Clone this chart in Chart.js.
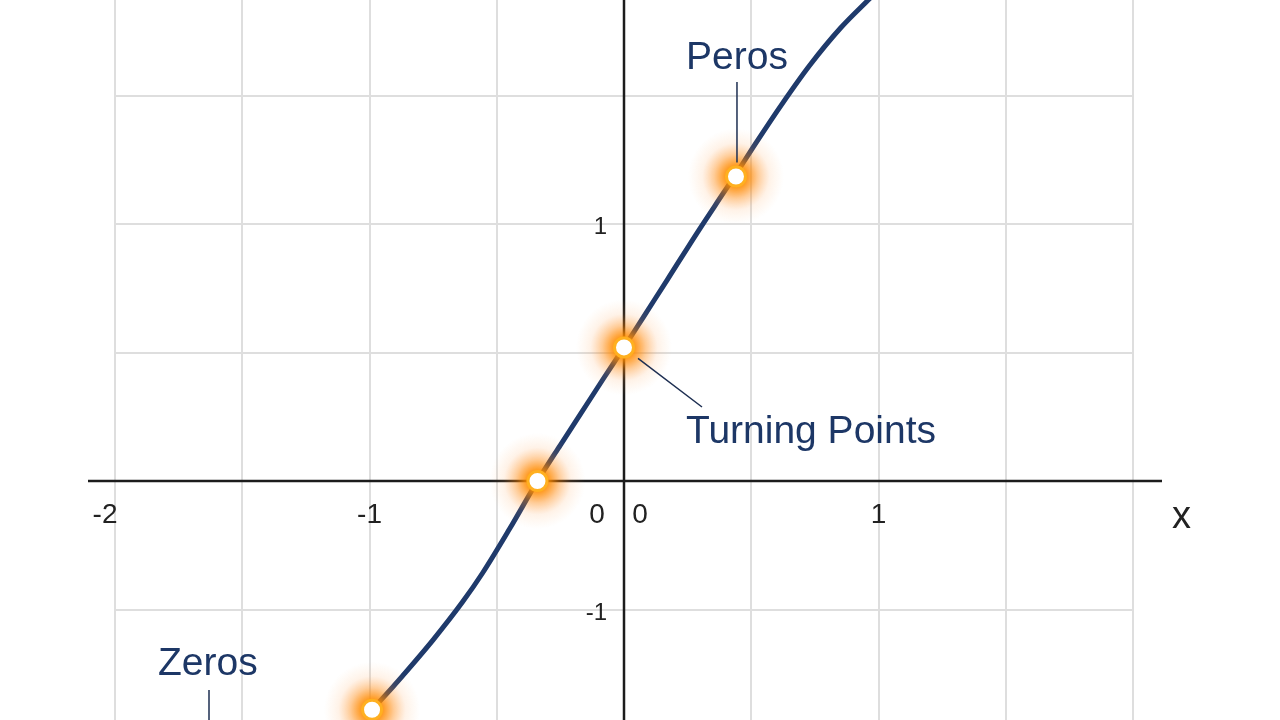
<!DOCTYPE html>
<html>
<head>
<meta charset="utf-8">
<title>Curve</title>
<script src="https://cdn.jsdelivr.net/npm/chart.js@4.4.1/dist/chart.umd.min.js"></script>
<style>
    html, body { margin: 0; padding: 0; background: #ffffff; }
    #wrap { width: 1280px; height: 720px; position: relative; }
</style>
</head>
<body>
<div id="wrap"><canvas id="graph"></canvas></div>
<script>
// Curve
const curveX = [-0.99, -0.95, -0.87, -0.75, -0.634, -0.555, -0.45, -0.34, -0.25, -0.17, -0.08, 0.00, 0.08, 0.17, 0.29, 0.39, 0.44, 0.52, 0.62, 0.73, 0.85, 0.97];
const curveY = [-0.889, -0.847, -0.758, -0.618, -0.47, -0.357, -0.187, 0.00, 0.14, 0.262, 0.40, 0.52, 0.644, 0.783, 0.97, 1.12, 1.195, 1.318, 1.466, 1.618, 1.762, 1.882];

// Highlighted points
const markerX = [-0.99, -0.34, 0.00, 0.44];
const markerY = [-0.89, 0.00, 0.52, 1.185];

// Tick labels (the picture puts "-1" on the first grid line below the axis)
const xTickValues = [-2, -1, 0, 1];
const xTickLabels = ['-2', '-1', '0', '1'];
const yTickValues = [1, 0, -0.5];
const yTickLabels = ['1', '0', '-1'];
const axisName = 'x';

// Callout texts
const calloutText = ['Zeros', 'Turning Points', 'Peros'];

const NAVY = '#1d3766';
const FONT = '"Liberation Sans", Arial, sans-serif';

function toPoints(xs, ys) {
    return xs.map((x, i) => ({ x: x, y: ys[i] }));
}

function onHalfStep(v) {
    return Math.abs(v * 2 - Math.round(v * 2)) < 1e-6;
}

// soft orange halo, built per point
function glowFill(c) {
    const chart = c.chart;
    if (!chart.chartArea || !c.raw) return 'rgba(0,0,0,0)';
    const px = chart.scales.x.getPixelForValue(c.raw.x);
    const py = chart.scales.y.getPixelForValue(c.raw.y);
    const g = chart.ctx.createRadialGradient(px, py, 0, px, py, 48);
    g.addColorStop(0, 'rgba(255, 165, 0, 1)');
    g.addColorStop(0.22, 'rgba(255, 140, 0, 0.88)');
    g.addColorStop(0.45, 'rgba(255, 130, 0, 0.42)');
    g.addColorStop(0.7, 'rgba(255, 150, 60, 0.12)');
    g.addColorStop(1, 'rgba(255, 170, 90, 0)');
    return g;
}

// Axes through the origin and their labels
const axesPlugin = {
    id: 'axesThroughOrigin',
    beforeDatasetsDraw(chart) {
        const { ctx, chartArea, scales } = chart;
        const ox = scales.x.getPixelForValue(0);
        const oy = scales.y.getPixelForValue(0);
        ctx.save();
        ctx.strokeStyle = '#1c1c1c';
        ctx.lineWidth = 2.5;
        ctx.beginPath();
        ctx.moveTo(chartArea.left - 27, oy);
        ctx.lineTo(chartArea.right + 29, oy);
        ctx.moveTo(ox, 0);
        ctx.lineTo(ox, chart.height);
        ctx.stroke();
        ctx.restore();
    },
    afterDraw(chart) {
        const { ctx, chartArea, scales } = chart;
        const ox = scales.x.getPixelForValue(0);
        const oy = scales.y.getPixelForValue(0);
        ctx.save();
        ctx.fillStyle = '#222222';
        ctx.textBaseline = 'alphabetic';

        // x labels
        ctx.font = '28px ' + FONT;
        ctx.textAlign = 'center';
        xTickValues.forEach((v, i) => {
            let px = scales.x.getPixelForValue(v);
            if (v === 0) px += 16;
            if (i === 0) px -= 10;
            ctx.fillText(xTickLabels[i], px, oy + 42);
        });

        // y labels
        yTickValues.forEach((v, i) => {
            if (v === 0) {
                ctx.font = '28px ' + FONT;
                ctx.textAlign = 'center';
                ctx.fillText(yTickLabels[i], ox - 27, oy + 42);
                return;
            }
            ctx.font = '24px ' + FONT;
            ctx.textAlign = 'right';
            ctx.fillText(yTickLabels[i], ox - 17, scales.y.getPixelForValue(v) + 10);
        });

        // axis name
        ctx.font = '38px ' + FONT;
        ctx.textAlign = 'left';
        ctx.fillText(axisName, chartArea.right + 39, oy + 47);
        ctx.restore();
    }
};

// Callouts with leader lines
const calloutPlugin = {
    id: 'callouts',
    afterDraw(chart) {
        const { ctx, scales } = chart;
        const px = i => scales.x.getPixelForValue(markerX[i]);
        const py = i => scales.y.getPixelForValue(markerY[i]);
        ctx.save();
        ctx.strokeStyle = '#1e2f52';
        ctx.lineWidth = 1.5;
        ctx.beginPath();
        // Zeros
        ctx.moveTo(209, 690);
        ctx.lineTo(209, chart.height);
        // Turning Points
        ctx.moveTo(px(2) + 14, py(2) + 11);
        ctx.lineTo(702, 407);
        // Peros
        ctx.moveTo(px(3) + 1, 82);
        ctx.lineTo(px(3) + 1, py(3) - 14);
        ctx.stroke();

        ctx.fillStyle = NAVY;
        ctx.font = '39px ' + FONT;
        ctx.textAlign = 'left';
        ctx.textBaseline = 'alphabetic';
        ctx.fillText(calloutText[0], 158, 675);
        ctx.fillText(calloutText[1], 686, 443);
        ctx.fillText(calloutText[2], 686, 69);
        ctx.restore();
    }
};

const ctx = document.getElementById('graph');

new Chart(ctx, {
    type: 'scatter',
    data: {
        datasets: [{
            label: 'points',
            data: toPoints(markerX, markerY),
            pointRadius: 9.5,
            pointBackgroundColor: '#ffffff',
            pointBorderColor: '#ffb020',
            pointBorderWidth: 3,
            order: 0
        }, {
            label: 'glow',
            data: toPoints(markerX, markerY),
            pointRadius: 48,
            pointBackgroundColor: glowFill,
            pointBorderWidth: 0,
            order: 1
        }, {
            label: 'curve',
            data: toPoints(curveX, curveY),
            showLine: true,
            borderColor: '#1f3a6b',
            borderWidth: 5,
            pointRadius: 0,
            cubicInterpolationMode: 'monotone',
            order: 2
        }]
    },
    options: {
        responsive: true,
        maintainAspectRatio: false,
        animation: false,
        events: [],
        layout: {
            autoPadding: false,
            padding: { left: 115, right: 147, top: 0, bottom: 0 }
        },
        plugins: {
            legend: { display: false },
            tooltip: { enabled: false }
        },
        scales: {
            x: {
                type: 'linear',
                min: -2,
                max: 2,
                ticks: { stepSize: 0.5, display: false },
                border: { display: false },
                grid: {
                    drawTicks: false,
                    lineWidth: 2,
                    color: c => onHalfStep(c.tick.value) ? '#dedede' : 'rgba(0,0,0,0)'
                }
            },
            y: {
                type: 'linear',
                min: -0.93,
                max: 1.872,
                ticks: { stepSize: 0.5, display: false },
                border: { display: false },
                grid: {
                    drawTicks: false,
                    lineWidth: 2,
                    color: c => onHalfStep(c.tick.value) ? '#dedede' : 'rgba(0,0,0,0)'
                }
            }
        }
    },
    plugins: [axesPlugin, calloutPlugin]
});
</script>
</body>
</html>
